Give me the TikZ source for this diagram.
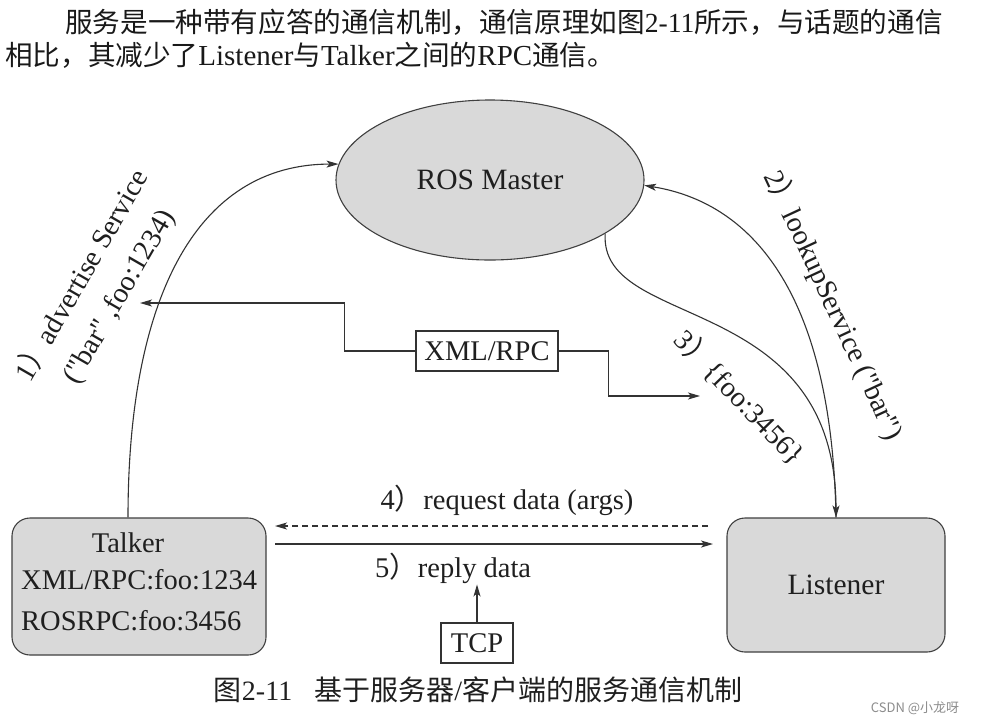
\documentclass[tikz,border=0pt]{standalone}
\usepackage{fontspec}
\setmainfont{Liberation Serif}
\newfontfamily\qf{Liberation Serif}
\newfontfamily\cjk{Noto Sans CJK SC}
\newcommand{\sq}{{\qf"}}
\usetikzlibrary{shapes.geometric,arrows.meta}
\begin{document}
\begin{tikzpicture}[x=1pt,y=-1pt,
  line/.style={draw=black!80, line width=1.1pt},
  arr/.style={line, -{Stealth[length=12pt,width=7pt,inset=3pt]}},
  graybox/.style={draw=black!75, line width=1.1pt, fill=black!15, rounded corners=18pt, inner sep=0pt},
  lbl/.style={font=\fontsize{28.5}{33}\selectfont, inner sep=0pt, text=black!88},
  plainbox/.style={draw=black!80, line width=1.1pt, fill=white, inner sep=0pt, font=\fontsize{28.5}{33}\selectfont, text=black!88},
  para/.style={font=\fontsize{27.6}{32}\selectfont, inner sep=0pt, anchor=west, text=black!90}
]
\fill[white] (0,0) rectangle (981,724);
\useasboundingbox (0,0) rectangle (981,724);

% top paragraph
\node[para] (p1) at (65,22) {{\cjk 服务是一种带有应答的通信机制，通信原理如图}2-11{\cjk 所示，与话题的通信}};
\node[para] (p2) at (5,55) {{\cjk 相比，其减少了}\fontsize{29}{32}\selectfont Listener{\cjk\fontsize{27.6}{32}\selectfont 与}Talker{\cjk\fontsize{27.6}{32}\selectfont 之间的}RPC{\cjk\fontsize{27.6}{32}\selectfont 通信。}};

% nodes
\node[ellipse, draw=black!75, line width=1.1pt, fill=black!15, minimum width=308pt, minimum height=160pt, inner sep=0pt, font=\fontsize{29.5}{33}\selectfont, text=black!88] (master) at (490,180) {ROS Master};
\node[graybox, minimum width=254pt, minimum height=137pt] (talker) at (139,586.5) {};
\node[graybox, minimum width=218pt, minimum height=134pt, font=\fontsize{29.5}{33}\selectfont, text=black!88] (listener) at (836,585) {Listener};
\node[lbl] (t1) at (128,543) {Talker};
\node[lbl, anchor=west] (t2) at (21,580) {XML/RPC:foo:1234};
\node[lbl, anchor=west] (t3) at (21,621) {ROSRPC:foo:3456};
\node[plainbox, minimum width=142pt, minimum height=40pt] (xml) at (487,351) {XML/RPC};
\node[plainbox, minimum width=72pt, minimum height=40pt] (tcp) at (477,643) {TCP};

% labels
\node[lbl, rotate=60, align=center] (l1) at (100,286) {1{\cjk ）}advertise Service\\[9pt](\sq bar\sq\ ,foo:1234)};
\node[lbl, rotate=-65] (l2) at (834,305) {2{\cjk ）}lookupService (\sq bar\sq)};
\node[lbl, rotate=-46] (l3) at (740,397) {3{\cjk ）}\{foo:3456\}};
\node[lbl] (l4) at (507,500) {4{\cjk ）}request data (args)};
\node[lbl, anchor=west] (l5) at (375,568) {5{\cjk ）}reply data};

% free ends
\coordinate (a1) at (140,303);
\coordinate (a3) at (700,396);
\coordinate (d1) at (708,526);
\coordinate (d2) at (275,526);
\coordinate (s1) at (275,544);
\coordinate (s2) at (713,544);

% connectors
\draw[arr] ([xshift=-11pt]talker.north) .. controls +(0,-218) and +(-143,0) .. (master.174);
\draw[arr] (listener.north) .. controls +(-4,-218) and +(112,18) .. (master.-2);
\draw[arr] (master.-25) .. controls +(-6,98) and +(0,-228) .. (listener.north);
\draw[arr] (xml.west) -- ++(-71,0) |- (a1);
\draw[arr] (xml.east) -- ++(50,0) |- (a3);
\draw[arr, dash pattern=on 6pt off 4pt] (d1) -- (d2);
\draw[arr] (s1) -- (s2);
\draw[arr] (tcp.north) -- ++(0,-38);

% caption
\node[inner sep=0pt, font=\fontsize{28}{32}\selectfont, text=black!88] (cap) at (478,690) {{\cjk 图}2-11\hspace{22pt}{\cjk 基于服务器}/{\cjk 客户端的服务通信机制}};
\node[inner sep=0pt, font=\cjk\fontsize{13}{15}\selectfont, text=black!45] (wm) at (915,708) {CSDN @小龙呀};
\end{tikzpicture}
\end{document}
